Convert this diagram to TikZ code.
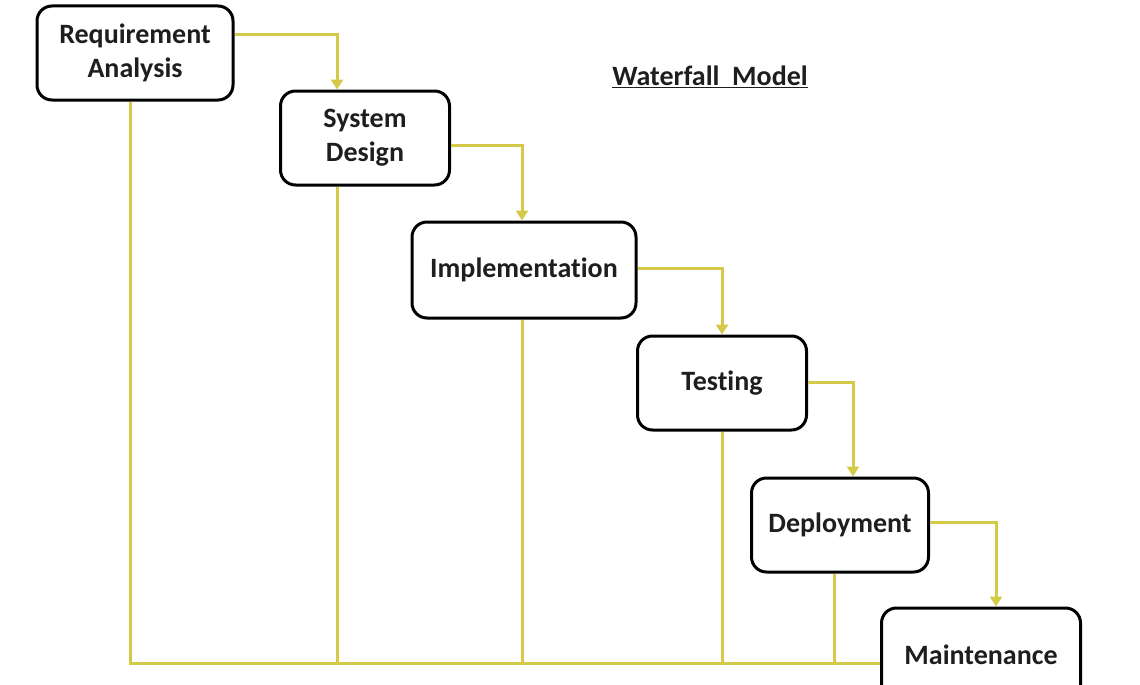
\documentclass[tikz,border=0pt]{standalone}
\usepackage{fontspec}
\setmainfont[RawFeature={-liga;-clig;-calt;-dlig}]{Carlito}
\usepackage{xcolor}
\usetikzlibrary{arrows.meta}
\definecolor{flowyellow}{RGB}{212,202,72}
\definecolor{boxtext}{RGB}{30,30,30}
\newcommand{\nolig}{\kern0pt}

\begin{document}
\begin{tikzpicture}[x=1pt,y=-1pt,
    phase/.style={draw=black,line width=3pt,rounded corners=15pt,fill=white,inner sep=0pt,
      minimum height=94pt,align=center,font=\fontsize{28}{34}\selectfont\bfseries,text=boxtext},
    flow/.style={draw=flowyellow,line width=3pt,-{Triangle[width=12pt,length=10pt]}},
    back/.style={draw=flowyellow,line width=3pt}]
  \useasboundingbox (0,0) rectangle (1140,685);
  \node[font=\fontsize{28}{34}\selectfont\bfseries,text=boxtext] (title) at (710,77) {\underline{Waterfall\ \ Model}};
  \node[phase,minimum width=196pt] (req) at (135,53) {Requirement\\Analysis};
  \node[phase,minimum width=169pt] (sys) at (365,138) {System\\Design};
  \node[phase,minimum width=224pt,minimum height=96pt] (imp) at (524,270) {Implementat\nolig ion};
  \node[phase,minimum width=169pt] (tst) at (722,383) {Test\nolig ing};
  \node[phase,minimum width=177pt] (dep) at (840,525) {Deployment};
  \node[phase,minimum width=199pt] (mnt) at (981,655) {Maintenance};
  \coordinate (bus) at ([yshift=-8pt]mnt.west);
  \draw[back] ([xshift=-5pt]req.south) |- (bus);
  \draw[back] ([xshift=-28pt]sys.south) -- ([xshift=-28pt]sys.south |- bus);
  \draw[back] ([xshift=-2pt]imp.south) -- ([xshift=-2pt]imp.south |- bus);
  \draw[back] (tst.south) -- (tst.south |- bus);
  \draw[back] ([xshift=-6pt]dep.south) -- ([xshift=-6pt]dep.south |- bus);
  \draw[flow] ([yshift=18pt]req.east) -| ([xshift=-28pt]sys.north);
  \draw[flow] ([yshift=-7pt]sys.east) -| ([xshift=-2pt]imp.north);
  \draw[flow] ([yshift=2pt]imp.east) -| (tst.north);
  \draw[flow] ([yshift=1pt]tst.east) -| ([xshift=13pt]dep.north);
  \draw[flow] ([yshift=3pt]dep.east) -| ([xshift=15pt]mnt.north);
\end{tikzpicture}
\end{document}
